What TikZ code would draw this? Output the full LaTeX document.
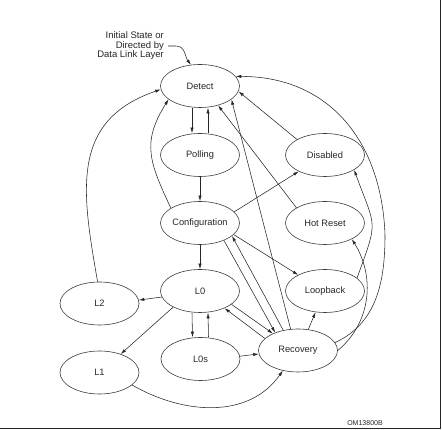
\documentclass[tikz,border=0pt]{standalone}
\usepackage{fontspec}
\setmainfont{Liberation Sans}
\usepackage{tikz}
\usetikzlibrary{arrows.meta,shapes.geometric}
\definecolor{ink}     {HTML}{262626}
\definecolor{inkgray} {HTML}{3A3A3A}
\tikzset{
  state/.style ={ellipse, draw=inkgray, line width=0.6pt,
                 minimum width=79pt, minimum height=43pt, inner sep=0pt,
                 text=ink, font=\fontsize{9.3}{11}\selectfont},
  arr/.style   ={-{Latex[length=5.5pt,width=3.2pt]}, line width=0.55pt, draw=ink},
  note/.style  ={align=right, inner sep=0pt, text=ink,
                 font=\fontsize{9.5}{9.5}\selectfont},
  tag/.style   ={inner sep=0pt, text=ink, font=\fontsize{7}{8}\selectfont},
}

\begin{document}
\begin{tikzpicture}[x=1pt,y=1pt]
  \useasboundingbox (0,0) rectangle (442,430);

  \node[state] (det)  at (200,344)    {Detect};
  \node[state] (pol)  at (200,275)    {Polling};
  \node[state] (dis)  at (325,275)    {Disabled};
  \node[state] (cfg)  at (200,207)    {Configuration};
  \node[state] (hot)  at (325,207)    {Hot Reset};
  \node[state] (lz)   at (200,139)    {L0};
  \node[state] (lpb)  at (325,139)    {Loopback};
  \node[state] (ltwo) at (99.5,126.5) {L2};
  \node[state] (lone) at (99.5,57.5)  {L1};
  \node[state] (lzs)  at (200.5,71)   {L0s};
  \node[state] (rec)  at (298,79.5)   {Recovery};

  \node[note,anchor=east] (init) at (164,384)
    {Initial State or\\Directed by\\Data Link Layer};
  \draw[arr] ([xshift=4pt]init.east) -- ++(8pt,0) to[out=0,in=128] (det.113);

  % down the middle
  \draw[arr] ([xshift=-8pt]det.south) -- ([xshift=-8pt]pol.north);
  \draw[arr] ([xshift=8pt]pol.north) -- ([xshift=8pt]det.south);
  \draw[arr] (pol) -- (cfg);
  \draw[arr] (cfg) -- (lz);
  \draw[arr] ([xshift=-8pt]lz.south) -- ([xshift=-8pt]lzs.north);
  \draw[arr] ([xshift=8pt]lzs.north) -- ([xshift=8pt]lz.south);

  % back to Detect
  \draw[arr] (cfg.153) to[out=115,in=238,looseness=1.2] (det.203);
  \draw[arr] (ltwo.95) to[out=100,in=199,looseness=1.2] (det.185);
  \draw[arr] (rec.109) -- (det.337);
  \draw[arr] (hot.152) -- (det.313);
  \draw[arr] (dis.151) -- (det.352);
  \coordinate (rbend) at (385,195);
  \draw[arr] (rec.12) to[out=25,in=-90] (rbend)
    to[out=92,in=0,looseness=1.1] (det.15);

  % out of Configuration
  \draw[arr] (cfg.18) -- (dis.212);
  \draw[arr] (cfg.341) -- (lpb.149);
  \draw[arr] (cfg.324) -- (rec.142);
  \draw[arr] (rec.126) -- (cfg.338);

  % around Recovery
  \draw[arr] (rec.east) to[out=40,in=-58] (hot.329);
  \draw[arr] (lpb.22) to[out=70,in=-70,looseness=1.5] (dis.333);
  \draw[arr] (rec.64) -- (lpb.246);
  \draw[arr] (lz.337) -- (rec.146);
  \draw[arr] (rec.160) -- (lz.325);
  \draw[arr] (lzs.4) -- (rec.185);
  \draw[arr] (lone.339) to[out=-30,in=-125] (rec.233);

  % low power states
  \draw[arr] (lz.189) -- (ltwo.5);
  \draw[arr] (lz.211) -- (lone.41);

  \node[tag] (code) at (365,7) {OM13800B};
  \draw[line width=0.9pt, draw=ink] (0,1.5) -- (440.5,1.5) -- (440.5,430);
\end{tikzpicture}
\end{document}
